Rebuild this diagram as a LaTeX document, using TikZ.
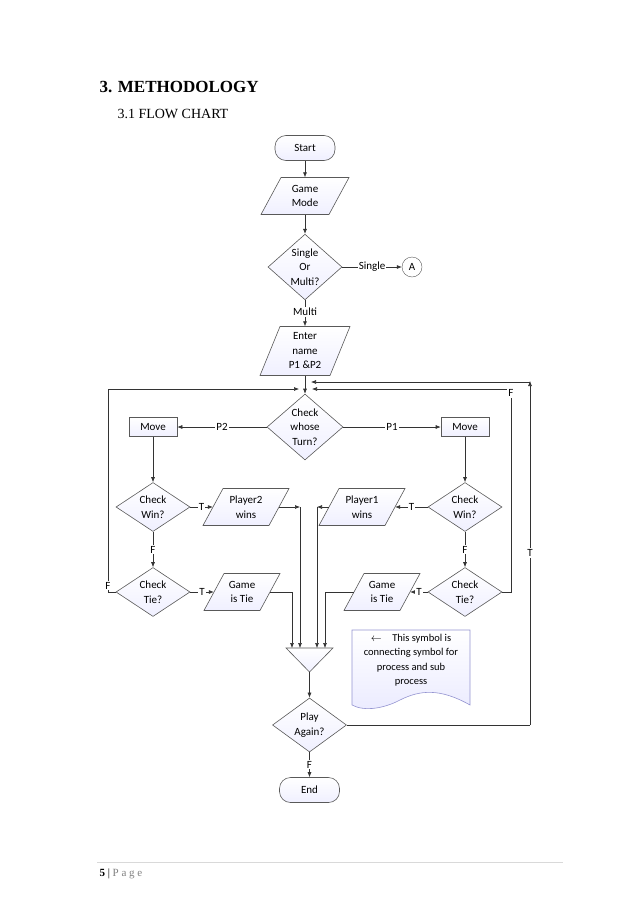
\documentclass[tikz,border=0pt]{standalone}
\usepackage{fontspec}
\setmainfont{Carlito}
\newfontfamily\serif{Liberation Serif}
\usetikzlibrary{shapes.geometric,arrows.meta}
\begin{document}
\begin{tikzpicture}[x=1pt,y=-1pt,
  every node/.style={font=\fontsize{11}{14.5}\selectfont, align=center},
  box/.style={draw=gray!70!black, top color=white, bottom color=blue!6, line width=0.6pt},
  term/.style={box, rounded corners=11pt, minimum width=60pt, minimum height=25pt, inner sep=0},
  proc/.style={box, minimum width=48pt, minimum height=19pt, inner sep=0},
  dec/.style={box, diamond, inner sep=0},
  lab/.style={fill=white, inner sep=1pt},
  line/.style={draw=black!80, line width=0.6pt},
  arr/.style={line, -{Latex[length=5pt,width=4pt]}}]
\useasboundingbox (0,0) rectangle (638,902);
\newcommand\para[6]{%
  \path[box] (#2-#4/2+10,#3-#5/2) -- (#2+#4/2+10,#3-#5/2) -- (#2+#4/2-10,#3+#5/2) -- (#2-#4/2-10,#3+#5/2) -- cycle;
  \node[minimum width=#4pt, minimum height=#5pt, inner sep=0] (#1) at (#2,#3) {#6};}
% headings
\node[anchor=base west, font=\serif\bfseries\fontsize{17}{20}\selectfont] (h1) at (96,92) {3. METHODOLOGY};
\node[anchor=base west, font=\serif\fontsize{14}{17}\selectfont] (h2) at (114,118) {3.1 FLOW CHART};
% top part
\node[term] (start) at (305,148) {Start};
\para{gm}{305}{196}{68}{37}{Game\\Mode}
\node[dec, minimum width=74pt, minimum height=62pt] (som) at (305,267) {Single\\Or\\Multi?};
\node[draw=gray!70!black, circle, minimum size=20pt, inner sep=0, fill=white] (A) at (412,267) {A};
\para{en}{305}{351}{70}{49}{Enter\\name\\P1 \&P2}
\coordinate (mg) at (305,389);
\node[dec, minimum width=76pt, minimum height=64pt] (cwt) at (305,427) {Check\\whose\\Turn?};
\node[proc] (mvl) at (153,427) {Move};
\node[proc] (mvr) at (465,427) {Move};
\node[dec, minimum width=74pt, minimum height=44pt] (cwl) at (153,507) {Check\\Win?};
\node[dec, minimum width=74pt, minimum height=44pt] (cwr) at (465,507) {Check\\Win?};
\node[dec, minimum width=74pt, minimum height=44pt] (ctl) at (153,592) {Check\\Tie?};
\node[dec, minimum width=74pt, minimum height=44pt] (ctr) at (465,592) {Check\\Tie?};
\para{p2w}{246}{507}{66}{37}{Player2\\wins}
\para{p1w}{362}{507}{66}{37}{Player1\\wins}
\para{gtl}{242}{592}{56}{37}{Game\\is Tie}
\para{gtr}{382}{592}{56}{37}{Game\\is Tie}
\path[box] (286,648) -- (333,648) -- (309.5,672) -- cycle;
\coordinate (tri) at (309.5,672);
\node[dec, minimum width=74pt, minimum height=44pt] (pa) at (309.5,725) {Play\\Again?};
\node[term] (end) at (309.5,790) {End};
% note
\path[draw=blue!40!gray!60, top color=white, bottom color=blue!8, line width=0.6pt]
  (352,630) -- (470,630) -- (470,705) .. controls (440,688) and (420,690) .. (400,700)
  .. controls (385,708) and (365,712) .. (352,705) -- cycle;
\node[font=\fontsize{10.5}{14.5}\selectfont] (note) at (411,660) {$\leftarrow$\quad This symbol is\\connecting symbol for\\process and sub\\process};
% connectors
\draw[arr] (start) -- (gm);
\draw[arr] (gm) -- (som);
\draw[arr] (som) -- node[lab]{Single} (A);
\draw[arr] (som) -- node[lab, pos=0.45]{Multi} (en);
\draw[arr] (en) -- (cwt);
\draw[arr] (cwt) -- node[lab]{P2} (mvl);
\draw[arr] (cwt) -- node[lab]{P1} (mvr);
\draw[arr] (mvl) -- (cwl);
\draw[arr] (mvr) -- (cwr);
\draw[arr] (cwl) -- node[lab]{T} (p2w);
\draw[arr] (cwr) -- node[lab]{T} (p1w);
\draw[arr] (cwl) -- node[lab]{F} (ctl);
\draw[arr] (cwr) -- node[lab]{F} (ctr);
\draw[arr] (ctl) -- node[lab]{T} (gtl);
\draw[arr] (ctr) -- node[lab]{T} (gtr);
\coordinate (c1) at (300,507); \coordinate (c2) at (317,507);
\draw[arr] (p2w) -- (c1); \draw[arr] (c1) -- (300,648);
\draw[arr] (p1w.west) -- (c2); \draw[arr] (c2) -- (317,648);
\draw[arr] (gtl.east) -| (292,648);
\draw[arr] (gtr.west) -| (325,648);
\draw[arr] (tri) -- (pa);
\draw[arr] (pa) -- node[lab]{F} (end);
\draw[arr] (ctl.west) -- (108,592) -- node[lab, pos=0.03]{F} (108,389) -- (299,389);
\draw[arr] (ctr.east) -- (511,592) -- node[lab, pos=0.98]{F} (511,389) -- (312,389);
\draw[line] (pa.east) -- (530,725);
\draw[arr] (530,725) -- node[lab, pos=0.5]{T} (530,381);
\draw[arr] (530,382) -- (311,382);
% footer
\draw[gray!30, line width=0.8pt] (97,862) -- (563,862);
\node[anchor=base west, font=\serif\fontsize{11}{13}\selectfont] (pg) at (96,876) {\textbf{5} | \textcolor{gray}{P a g e}};
\end{tikzpicture}
\end{document}
